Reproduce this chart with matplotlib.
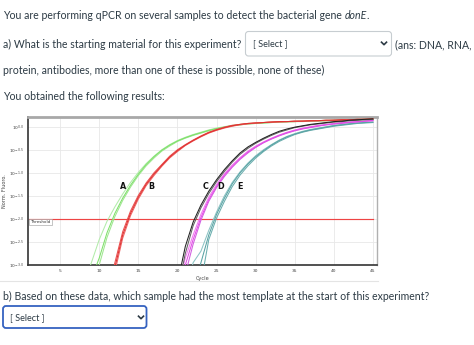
import numpy as np
import matplotlib
matplotlib.use("Agg")
import matplotlib.pyplot as plt
from matplotlib.patches import FancyBboxPatch
from matplotlib.lines import Line2D

# ---------------- data (log10 of normalized fluorescence, each series ends at cycle 45) -------------
A1 = [-3.4, -2.95, -2.45, -2.05, -1.74, -1.46, -1.21, -0.99, -0.80, -0.64, -0.50, -0.39, -0.30, -0.23,
      -0.17, -0.12, -0.07, -0.03, 0.00, 0.03, 0.05, 0.07, 0.08, 0.09, 0.10, 0.11, 0.11, 0.12, 0.12, 0.13,
      0.13, 0.14, 0.14, 0.15, 0.15, 0.16, 0.16, 0.17]
A2 = [-3.3, -2.85, -2.3, -1.88, -1.55, -1.27, -1.03, -0.82, -0.65, -0.51, -0.40, -0.31, -0.24, -0.18,
      -0.13, -0.08, -0.04, -0.01, 0.02, 0.04, 0.06, 0.07, 0.08, 0.09, 0.10, 0.11, 0.11, 0.12, 0.12, 0.13,
      0.13, 0.14, 0.14, 0.15, 0.15, 0.16, 0.16]
A3 = [-3.6, -3.0, -2.4, -1.95, -1.60, -1.31, -1.06, -0.85, -0.68, -0.53, -0.42, -0.32, -0.25, -0.19,
      -0.14, -0.09, -0.05, -0.01, 0.02, 0.04, 0.06, 0.07, 0.08, 0.09, 0.10, 0.10, 0.11, 0.11, 0.12, 0.12,
      0.13, 0.13, 0.14, 0.14, 0.15, 0.15, 0.16]
B1 = [-3.7, -2.95, -2.28, -1.83, -1.49, -1.22, -1.00, -0.82, -0.64, -0.50, -0.39, -0.29, -0.20, -0.12,
      -0.06, -0.01, 0.03, 0.05, 0.07, 0.08, 0.09, 0.10, 0.11, 0.11, 0.12, 0.12, 0.13, 0.13, 0.14, 0.14,
      0.15, 0.15, 0.16, 0.16, 0.17]
B2 = [-3.8, -3.05, -2.35, -1.88, -1.53, -1.25, -1.03, -0.84, -0.66, -0.52, -0.40, -0.30, -0.21, -0.13,
      -0.07, -0.02, 0.02, 0.05, 0.07, 0.08, 0.09, 0.10, 0.11, 0.11, 0.12, 0.12, 0.13, 0.13, 0.14, 0.14,
      0.15, 0.15, 0.16, 0.16, 0.17]
B3 = [-3.9, -3.15, -2.42, -1.93, -1.57, -1.28, -1.06, -0.86, -0.68, -0.54, -0.41, -0.31, -0.22, -0.14,
      -0.08, -0.03, 0.01, 0.04, 0.06, 0.08, 0.09, 0.10, 0.10, 0.11, 0.11, 0.12, 0.12, 0.13, 0.13, 0.14,
      0.14, 0.15, 0.15, 0.16, 0.16]
C1 = [-3.4, -2.6, -2.07, -1.70, -1.40, -1.15, -0.93, -0.74, -0.57, -0.44, -0.34, -0.25, -0.17, -0.10,
      -0.05, -0.01, 0.02, 0.05, 0.07, 0.09, 0.11, 0.12, 0.14, 0.15, 0.16, 0.17]
C2 = [-3.6, -2.75, -2.15, -1.76, -1.45, -1.19, -0.97, -0.77, -0.60, -0.47, -0.36, -0.27, -0.19, -0.12,
      -0.07, -0.02, 0.01, 0.04, 0.06, 0.08, 0.10, 0.11, 0.13, 0.14, 0.15, 0.16]
D1 = [-3.5, -2.85, -2.35, -1.90, -1.53, -1.25, -1.02, -0.83, -0.67, -0.53, -0.42, -0.33, -0.25, -0.18,
      -0.12, -0.07, -0.03, 0.00, 0.03, 0.05, 0.07, 0.09, 0.10, 0.11, 0.12, 0.13]
D2 = [-3.8, -3.0, -2.45, -1.97, -1.58, -1.29, -1.05, -0.86, -0.69, -0.55, -0.44, -0.34, -0.26, -0.19,
      -0.13, -0.08, -0.04, -0.01, 0.02, 0.04, 0.06, 0.08, 0.10, 0.11, 0.12, 0.14]
D3 = [-4.0, -3.2, -2.55, -2.03, -1.62, -1.32, -1.08, -0.88, -0.71, -0.57, -0.45, -0.35, -0.27, -0.20,
      -0.14, -0.09, -0.05, -0.02, 0.01, 0.04, 0.06, 0.07, 0.09, 0.10, 0.12, 0.13]
E1 = [-3.6, -2.95, -2.7, -2.25, -1.85, -1.50, -1.21, -0.98, -0.79, -0.63, -0.50, -0.39, -0.29, -0.21,
      -0.15, -0.10, -0.06, -0.03, 0.00, 0.03, 0.05, 0.07, 0.08, 0.09, 0.10]
E2 = [-3.5, -2.95, -2.35, -1.90, -1.55, -1.24, -1.00, -0.81, -0.65, -0.52, -0.40, -0.30, -0.22, -0.16,
      -0.11, -0.07, -0.04, -0.01, 0.02, 0.04, 0.06, 0.08, 0.09, 0.10]
E3 = [-3.4, -2.45, -1.98, -1.62, -1.30, -1.05, -0.85, -0.68, -0.54, -0.42, -0.32, -0.24, -0.17, -0.12,
      -0.08, -0.05, -0.02, 0.01, 0.03, 0.05, 0.07, 0.08, 0.09]

last_cycle = 45
threshold_log = -2.0
sample_labels = ["A", "B", "C", "D", "E"]
label_cycles = [13.1, 16.6, 23.6, 25.5, 28.0]
label_log = -1.29
x_ticks = [5, 10, 15, 20, 25, 30, 35, 40, 45]
y_tick_logs = [0.0, -0.5, -1.0, -1.5, -2.0, -2.5, -3.0]

series = [
    (A1, "#b2ecaa"), (A3, "#9fe690"), (A2, "#7ee06a"),
    (B1, "#ec5050"), (B3, "#f06464"), (B2, "#de3030"),
    (E1, "#8cc4c4"), (E3, "#6aaeae"), (E2, "#58a2a3"),
    (D1, "#f07cf0"), (D3, "#d060e0"), (D2, "#e64ae8"),
    (C2, "#606060"), (C1, "#222222"),
]

# ---------------- figure ----------------
W, H = 474, 345
fig = plt.figure(figsize=(W / 100, H / 100), dpi=100)
fig.patch.set_facecolor("white")

bg = fig.add_axes([0, 0, 1, 1], zorder=0)
bg.set_xlim(0, W)
bg.set_ylim(H, 0)
bg.axis("off")

TXT = "#2d3b45"
FONT = "Lato"
FS = 7.6

renderer = fig.canvas.get_renderer()

def put(x, y, s, **kw):
    t = bg.text(x, y, s, family=FONT, fontsize=kw.pop("fontsize", FS), color=kw.pop("color", TXT),
                va=kw.pop("va", "baseline"), ha="left", **kw)
    return t

def width_px(t):
    return t.get_window_extent(renderer=renderer).width

t = put(3, 19, "You are performing qPCR on several samples to detect the bacterial gene ")
x2 = 3 + width_px(t)
t2 = put(x2, 19, "donE", style="italic")
x3 = x2 + width_px(t2)
put(x3, 19, ".")

put(3, 48, "a) What is the starting material for this experiment?")
box1 = FancyBboxPatch((245.5, 31.5), 146, 24.5, boxstyle="round,pad=0,rounding_size=3",
                      transform=bg.transData, fc="white", ec="#c7cdd1", lw=0.8)
bg.add_patch(box1)
put(253, 43.5, "[ Select ]", fontsize=6.6, va="center")
bg.add_line(Line2D([381.5, 384, 386.5], [42.2, 44.7, 42.2], color="#2d3b45", lw=1.2))
put(395, 48, "(ans: DNA, RNA,")
put(3, 74, "protein, antibodies, more than one of these is possible, none of these)")
put(3, 100.5, "You obtained the following results:")

bg.add_line(Line2D([0, 378], [280.5, 280.5], color="#e4e4e4", lw=0.8))
put(3, 300, "b) Based on these data, which sample had the most template at the start of this experiment?")
box2 = FancyBboxPatch((3, 306), 143.5, 22, boxstyle="round,pad=0,rounding_size=3",
                      transform=bg.transData, fc="white", ec="#3562c0", lw=1.3)
bg.add_patch(box2)
put(10, 317.5, "[ Select ]", fontsize=6.6, va="center")
bg.add_line(Line2D([138.5, 141, 143.5], [316.2, 318.7, 316.2], color="#2d3b45", lw=1.2))

# ---------------- chart ----------------
left, right, top, bottom = 28, 377, 117, 265
ax = fig.add_axes([left / W, 1 - bottom / H, (right - left) / W, (bottom - top) / H], zorder=2)
ax.set_facecolor("white")
ax.set_yscale("log")
ax.set_xlim(0.9, 45.5)
ax.set_ylim(10 ** -3.0, 10 ** 0.21)

for vals, col in series:
    cyc = np.arange(last_cycle - len(vals) + 1, last_cycle + 1)
    ax.plot(cyc, 10 ** np.array(vals), color=col, lw=0.75, solid_capstyle="round", zorder=3)

ax.plot([1, 45], [10 ** threshold_log] * 2, color="#ee4444", lw=0.85, zorder=2)
ax.text(1.2, 10 ** (threshold_log - 0.03), "Threshold", fontsize=3.0, family="DejaVu Sans",
        color="#333333", va="top", ha="left", zorder=4,
        bbox=dict(boxstyle="square,pad=0.25", fc="white", ec="#999999", lw=0.4))

for lab, cx in zip(sample_labels, label_cycles):
    ax.text(cx, 10 ** label_log, lab, fontsize=5.8, fontweight="bold", family="DejaVu Sans",
            color="#111111", ha="center", va="center", zorder=5)

ax.set_xticks(x_ticks)
ax.set_xticklabels([str(v) for v in x_ticks])
ax.set_yticks([10 ** v for v in y_tick_logs])
ax.set_yticklabels([r"$10^{%.1f}$" % v for v in y_tick_logs])
ax.yaxis.set_minor_locator(matplotlib.ticker.NullLocator())
ax.tick_params(axis="both", length=0, labelsize=3.2, colors="#444444", pad=3)
ax.grid(True, color="#e8e8e8", lw=0.6, zorder=0)
ax.set_axisbelow(True)
ax.set_xlabel("Cycle", fontsize=3.6, color="#444444", labelpad=2)
ax.set_ylabel("Norm. Fluoro.", fontsize=3.6, color="#444444")
ax.yaxis.set_label_coords(-0.06, 0.5)
for s in ["left", "bottom"]:
    ax.spines[s].set_color("#333333")
    ax.spines[s].set_linewidth(1.2)
ax.spines["top"].set_color("#a8a8a8")
ax.spines["top"].set_linewidth(2.0)
ax.spines["right"].set_color("#b0b0b0")
ax.spines["right"].set_linewidth(1.0)

fig.savefig("out.png", dpi=100, facecolor="white")
